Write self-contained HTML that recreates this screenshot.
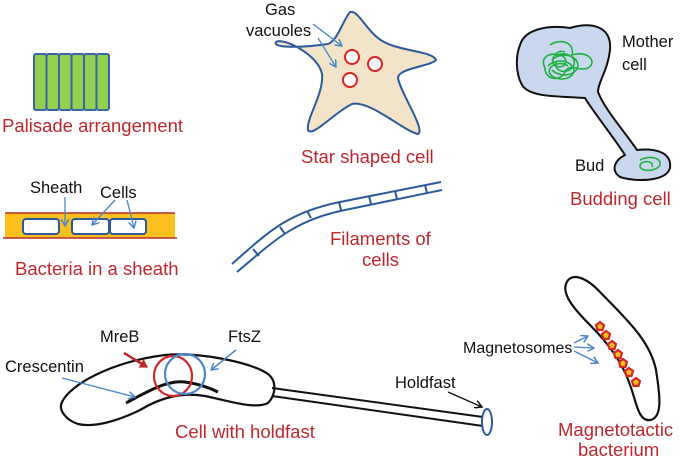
<!DOCTYPE html>
<html><head><meta charset="utf-8"><style>
html,body{margin:0;padding:0;background:#fff;}
svg{display:block;}
.r{fill:#c0272d;font-family:"Liberation Sans",sans-serif;font-size:18.5px;}
.k{fill:#111;font-family:"Liberation Sans",sans-serif;font-size:16.5px;}
</style></head><body>
<svg width="685" height="463" viewBox="0 0 685 463" xmlns="http://www.w3.org/2000/svg">
<defs>
<marker id="ab" markerWidth="8" markerHeight="8" refX="7" refY="4" orient="auto" markerUnits="userSpaceOnUse"><path d="M0,0 L7,4 L0,8" fill="none" stroke="#4a86c8" stroke-width="1.5"/></marker>
<marker id="ak" markerWidth="8" markerHeight="8" refX="7" refY="4" orient="auto" markerUnits="userSpaceOnUse"><path d="M0,0 L7,4 L0,8" fill="none" stroke="#111" stroke-width="1.5"/></marker>
<marker id="ar" markerWidth="10" markerHeight="10" refX="7" refY="5" orient="auto" markerUnits="userSpaceOnUse"><path d="M0,0 L8,5 L0,10 Z" fill="#c0272d"/></marker>
</defs>
<!-- palisade -->
<g fill="#92d050" stroke="#3a64a8" stroke-width="2">
<rect x="34" y="54" width="12.5" height="56" rx="2"/><rect x="46.5" y="54" width="12.5" height="56" rx="2"/><rect x="59" y="54" width="12.5" height="56" rx="2"/><rect x="71.5" y="54" width="12.5" height="56" rx="2"/><rect x="84" y="54" width="12.5" height="56" rx="2"/><rect x="96.5" y="54" width="12.5" height="56" rx="2"/>
</g>
<text class="r" x="2" y="132">Palisade arrangement</text>
<!-- star -->
<path d="M350,12 C343,20 338,40 328,44 C300,48 272,48 276,42 C282,37 318,54 322,74 C324,94 306,118 308,130 C312,138 335,112 352,104 C370,100 405,132 418,134 C426,130 400,92 398,78 C398,68 432,66 436,60 C432,50 395,52 378,38 C365,28 358,10 350,12 Z" fill="#f3e3c8" stroke="#2d5a9a" stroke-width="2"/>
<g fill="#fff" stroke="#e02020" stroke-width="2"><circle cx="352" cy="57" r="7"/><circle cx="375" cy="64" r="7"/><circle cx="350" cy="80" r="7"/></g>
<line x1="313" y1="24" x2="342" y2="46" stroke="#4a86c8" stroke-width="1.3" marker-end="url(#ab)"/>
<line x1="318" y1="38" x2="336" y2="67" stroke="#4a86c8" stroke-width="1.3" marker-end="url(#ab)"/>
<text class="k" x="265" y="15">Gas</text>
<text class="k" x="246" y="36">vacuoles</text>
<text class="r" x="301" y="163">Star shaped cell</text>
<!-- sheath -->
<rect x="5" y="213" width="170" height="25" fill="#fbbf1e"/>
<line x1="5" y1="213" x2="175" y2="213" stroke="#b03030" stroke-width="1.5"/>
<line x1="3" y1="238" x2="177" y2="238" stroke="#b03030" stroke-width="1.5"/>
<g fill="#fff" stroke="#2d5a9a" stroke-width="2"><rect x="23" y="219" width="36" height="15" rx="3"/><rect x="72" y="219" width="37" height="15" rx="3"/><rect x="110" y="219" width="36" height="15" rx="3"/></g>
<line x1="65" y1="197" x2="65" y2="226" stroke="#4a86c8" stroke-width="1.3" marker-end="url(#ab)"/>
<line x1="115" y1="200" x2="92" y2="225" stroke="#4a86c8" stroke-width="1.3" marker-end="url(#ab)"/>
<line x1="127" y1="200" x2="134" y2="228" stroke="#4a86c8" stroke-width="1.3" marker-end="url(#ab)"/>
<text class="k" x="30" y="193">Sheath</text>
<text class="k" x="100" y="198">Cells</text>
<text class="r" x="15" y="275">Bacteria in a sheath</text>
<!-- filament -->
<path d="M232,264 C270,230 290,212 340,202 C380,194 410,188 441,182" fill="none" stroke="#2d5a9a" stroke-width="2"/>
<path d="M237,272 C275,240 295,220 345,210 C385,202 412,196 442,190" fill="none" stroke="#2d5a9a" stroke-width="2"/>
<g stroke="#2d5a9a" stroke-width="2"><line x1="253" y1="249" x2="259" y2="256"/><line x1="280" y1="227" x2="285" y2="234"/><line x1="307" y1="211" x2="311" y2="218"/><line x1="339" y1="202" x2="341" y2="210"/><line x1="369" y1="196" x2="371" y2="204"/><line x1="395" y1="191" x2="397" y2="199"/><line x1="425" y1="185" x2="427" y2="193"/></g>
<text class="r" x="330" y="245">Filaments of</text>
<text class="r" x="362" y="266">cells</text>
<!-- budding -->
<path d="M520,45 C525,28 550,25 570,28 C590,22 612,25 610,50 C608,70 598,82 598,92 C605,110 625,132 637,150 C655,148 672,152 670,168 C666,182 635,182 620,177 C610,170 615,160 625,155 C612,135 592,110 585,98 C560,96 530,98 522,85 C515,72 516,55 520,45 Z" fill="#cad8ef" stroke="#111" stroke-width="2"/>
<g fill="none" stroke="#1fb040" stroke-width="1.6">
<path d="M550,45 C560,38 575,42 572,55 C588,50 598,62 588,68 C578,72 570,62 565,72 C560,82 545,80 545,68 C540,58 548,52 560,55 C570,58 566,70 556,66 C548,62 556,48 565,52"/>
<path d="M552,60 C560,52 578,54 578,66 C576,76 560,78 552,70"/>
<path d="M548,66 C555,58 572,60 574,70 C574,80 556,82 550,74 C546,66 560,60 568,66"/>
<path d="M556,56 C566,50 580,58 572,68 C566,74 554,72 556,62"/>
<path d="M640,160 C650,155 662,158 660,165 C656,172 640,172 640,166 C640,160 655,160 652,167"/>
</g>
<text class="k" x="622" y="47">Mother</text>
<text class="k" x="622" y="70">cell</text>
<text class="k" x="575" y="171">Bud</text>
<text class="r" x="570" y="205">Budding cell</text>
<!-- cell with holdfast -->
<path d="M62,402 C70,385 110,362 165,355 C200,352 250,362 268,374 C278,382 275,396 268,403 C255,410 225,400 205,396 C180,392 160,398 140,410 C120,420 95,428 78,424 C66,420 58,410 62,402 Z" fill="#fff" stroke="#111" stroke-width="2.2"/>
<path d="M126,403 C150,390 168,380 185,382 C200,384 210,388 218,392" fill="none" stroke="#111" stroke-width="3"/>
<ellipse cx="173" cy="376" rx="19" ry="20" fill="none" stroke="#d02828" stroke-width="2.2"/>
<ellipse cx="185" cy="374" rx="20" ry="20" fill="none" stroke="#4a86c8" stroke-width="2.2"/>
<line x1="272" y1="388" x2="483" y2="417" stroke="#111" stroke-width="2"/>
<line x1="272" y1="396" x2="483" y2="426" stroke="#111" stroke-width="2"/>
<ellipse cx="487" cy="422" rx="5" ry="13" fill="#fff" stroke="#2d5a9a" stroke-width="2"/>
<line x1="124" y1="353" x2="147" y2="367" stroke="#c0272d" stroke-width="2.5" marker-end="url(#ar)"/>
<line x1="236" y1="350" x2="211" y2="370" stroke="#4a86c8" stroke-width="1.5" marker-end="url(#ab)"/>
<line x1="62" y1="378" x2="135" y2="397" stroke="#4a86c8" stroke-width="1.3" marker-end="url(#ab)"/>
<line x1="448" y1="392" x2="482" y2="407" stroke="#111" stroke-width="1.3" marker-end="url(#ak)"/>
<text class="k" x="100" y="342">MreB</text>
<text class="k" x="228" y="342">FtsZ</text>
<text class="k" x="5" y="372">Crescentin</text>
<text class="k" x="395" y="388">Holdfast</text>
<text class="r" x="175" y="438">Cell with holdfast</text>
<!-- magnetotactic -->
<path d="M566,284 C570,272 585,276 600,292 C625,318 650,340 656,370 C660,395 663,418 650,420 C638,422 636,400 630,385 C622,360 605,340 590,325 C575,310 562,295 566,284 Z" fill="#fff" stroke="#111" stroke-width="2.2"/>
<g fill="#fbbf1e" stroke="#d02828" stroke-width="2.2">
<path d="M600,322 l4,3 -1.5,5 -5,0 -1.5,-5 z"/><path d="M606,331 l4,3 -1.5,5 -5,0 -1.5,-5 z"/><path d="M612,341 l4,3 -1.5,5 -5,0 -1.5,-5 z"/><path d="M618,350 l4,3 -1.5,5 -5,0 -1.5,-5 z"/><path d="M623,359 l4,3 -1.5,5 -5,0 -1.5,-5 z"/><path d="M629,368 l4,3 -1.5,5 -5,0 -1.5,-5 z"/><path d="M636,378 l4,3 -1.5,5 -5,0 -1.5,-5 z"/>
</g>
<text class="k" x="463" y="353" style="font-size:16px">Magnetosomes</text>
<line x1="574" y1="343" x2="588" y2="336" stroke="#4a86c8" stroke-width="1.3" marker-end="url(#ab)"/>
<line x1="574" y1="347" x2="594" y2="348" stroke="#4a86c8" stroke-width="1.3" marker-end="url(#ab)"/>
<line x1="574" y1="351" x2="598" y2="363" stroke="#4a86c8" stroke-width="1.3" marker-end="url(#ab)"/>
<text class="r" x="558" y="436">Magnetotactic</text>
<text class="r" x="578" y="456">bacterium</text>
</svg>
</body></html>
